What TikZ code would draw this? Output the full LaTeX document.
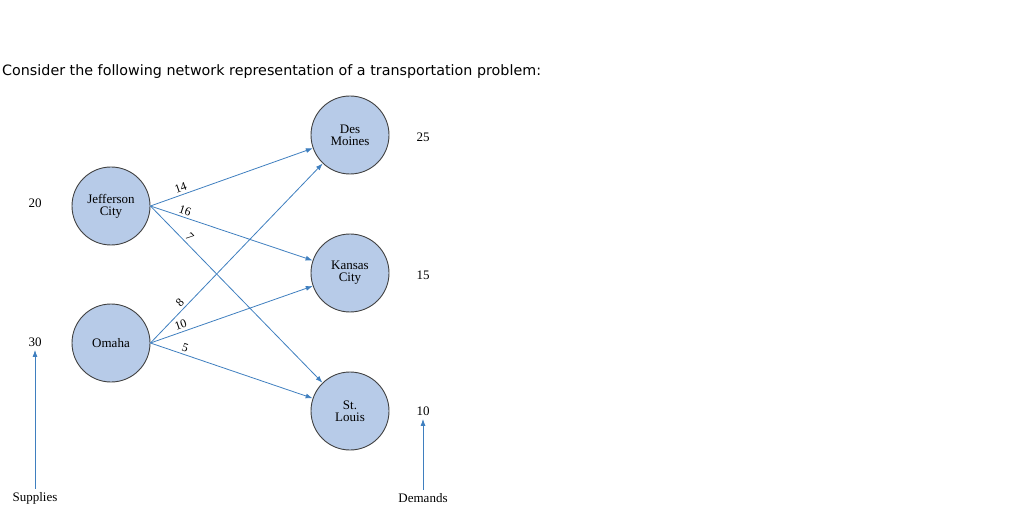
\documentclass[tikz,border=0pt]{standalone}
\usepackage{fontspec}
\setmainfont{Liberation Serif}
\newfontfamily\titlefont{DejaVu Sans}
\usetikzlibrary{arrows.meta}
\definecolor{nodefill}{HTML}{B7CBE8}
\definecolor{edgeblue}{HTML}{3F7FBF}
\tikzset{
  city/.style={circle,draw=black!75,line width=0.9pt,fill=nodefill,minimum size=78pt,inner sep=0pt,align=center,font=\fontsize{13}{12}\selectfont},
  route/.style={draw=edgeblue,line width=0.8pt,-{Latex[length=7pt,width=5pt]}},
  cost/.style={sloped,above,font=\fontsize{12}{12}\selectfont,inner sep=0pt,yshift=2.5pt},
  lbl/.style={font=\fontsize{13}{13}\selectfont},
  sdarrow/.style={draw=edgeblue,line width=0.8pt,-{Latex[length=7pt,width=5pt]}}
}
\begin{document}
\begin{tikzpicture}[x=1pt,y=-1pt]
\useasboundingbox (0,0) rectangle (1024,510);
\node[anchor=west,inner sep=0pt,font=\titlefont\fontsize{14.3}{15}\selectfont] (title) at (2,72) {Consider the following network representation of a transportation problem:};
\node[city] (jc) at (111,206) {Jefferson\\City};
\node[city] (om) at (111,343) {Omaha};
\node[city] (dm) at (350,135) {Des\\Moines};
\node[city] (kc) at (350,273) {Kansas\\City};
\node[city] (sl) at (350,411) {St.\\Louis};
\draw[route] (jc.east) -- node[cost,pos=0.2]{14} (dm);
\draw[route] (jc.east) -- node[cost,pos=0.2]{16} (kc);
\draw[route] (jc.east) -- node[cost,pos=0.2]{7} (sl);
\draw[route] (om.east) -- node[cost,pos=0.2]{8} (dm);
\draw[route] (om.east) -- node[cost,pos=0.2]{10} (kc);
\draw[route] (om.east) -- node[cost,pos=0.2]{5} (sl);
\node[lbl] (s20) at (35,203) {20};
\node[lbl] (s30) at (35,342) {30};
\node[lbl] (sup) at (35,498) {Supplies};
\draw[sdarrow] (sup.north) -- (s30.south);
\node[lbl] (d25) at (423,137) {25};
\node[lbl] (d15) at (423,275) {15};
\node[lbl] (d10) at (423,411) {10};
\node[lbl] (dem) at (423,498) {Demands};
\draw[sdarrow] (dem.north) -- (d10.south);
\end{tikzpicture}
\end{document}
